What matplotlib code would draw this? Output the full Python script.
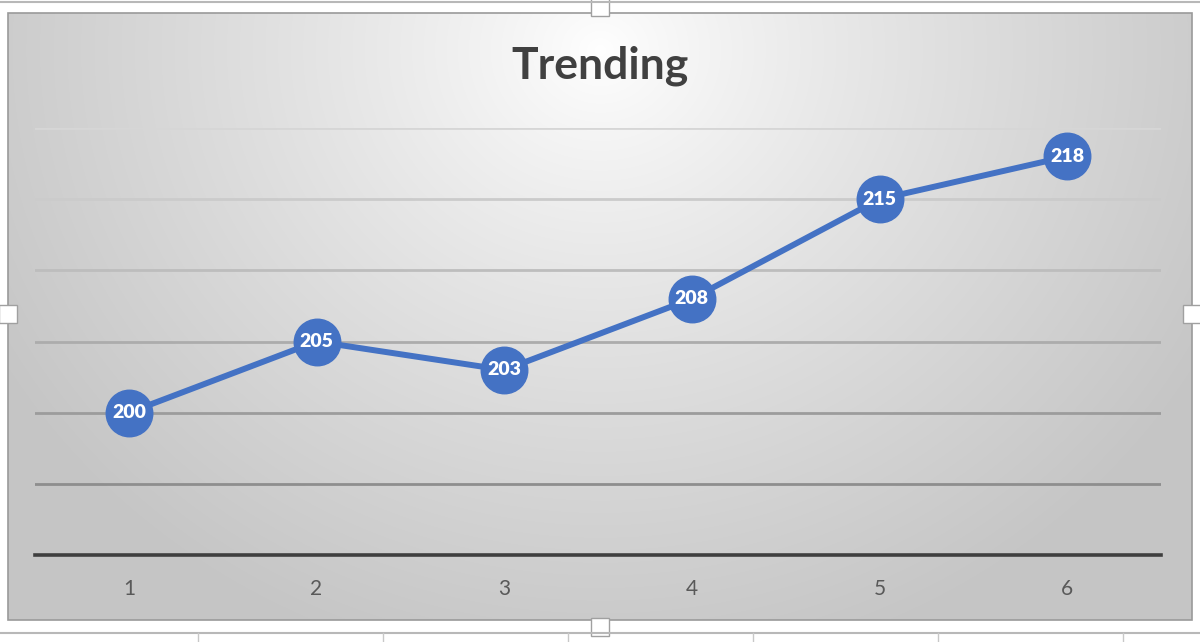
import numpy as np
import matplotlib
matplotlib.use("Agg")
import matplotlib.pyplot as plt
from matplotlib.patches import Rectangle

# chart data
categories = ["1", "2", "3", "4", "5", "6"]
values = [200, 205, 203, 208, 215, 218]
title = "Trending"

W, H = 1200, 642
BLUE = "#4472C4"

plt.rcParams["font.family"] = ["Lato", "DejaVu Sans"]

fig = plt.figure(figsize=(W / 100, H / 100), dpi=100)
fig.patch.set_facecolor("white")


def fx(px):
    return px / W


def fy(py):
    return 1 - py / H


# spreadsheet lines around the chart object
fig.add_artist(plt.Line2D([0, 1], [fy(2), fy(2)], color="#b8b8b8", lw=1.5))
fig.add_artist(plt.Line2D([0, 1], [fy(633), fy(633)], color="#b8b8b8", lw=1.5))
for cx in [198, 383, 568, 753, 938, 1123]:
    fig.add_artist(plt.Line2D([fx(cx), fx(cx)], [fy(633), 0], color="#c8c8c8", lw=1))

# chart area with radial gradient
left, top, right, bottom = 8, 13, 1192, 620
bg = fig.add_axes([fx(left), fy(bottom), fx(right - left), (bottom - top) / H])
yy, xx = np.mgrid[top:bottom, left:right]
d = np.sqrt(((xx - 600) / 700.0) ** 2 + ((yy - 50) / 640.0) ** 2)
shade = 255 - 58 * np.clip(d, 0, 1.0) ** 0.85
img = np.dstack([shade, shade, shade]) / 255.0
bg.imshow(np.clip(img, 0, 1), aspect="auto", interpolation="bilinear")
bg.set_axis_off()
fig.add_artist(Rectangle((fx(left), fy(bottom)), fx(right - left), (bottom - top) / H,
                         fill=False, edgecolor="#9a9a9a", lw=1.2))

# plot area
ax = fig.add_axes([fx(35), fy(555), fx(1161 - 35), (555 - 128) / H])
ax.set_facecolor("none")
x = np.arange(len(values))
ax.set_xlim(-0.5, len(values) - 0.5)
ax.set_ylim(190, 220)

grid_cols = {195: "#8e8e8e", 200: "#9c9c9c", 205: "#acacac", 210: "#bdbdbd",
             215: "#cbcbcb", 220: "#d6d6d6"}
for yv, c in grid_cols.items():
    ax.axhline(yv, color=c, lw=2, zorder=1)
ax.axhline(190, color="#3f3f3f", lw=2.6, zorder=2, clip_on=False)

ax.plot(x, values, color=BLUE, lw=4.3, marker="o", ms=33.5,
        markerfacecolor=BLUE, markeredgecolor=BLUE, zorder=3, clip_on=False)
for xi, v in zip(x, values):
    ax.text(xi, v, str(v), color="white", fontsize=14, fontweight="heavy",
            ha="center", va="center", zorder=4)

for s in ax.spines.values():
    s.set_visible(False)
ax.set_yticks([])
ax.set_xticks(x)
ax.set_xticklabels(categories, fontsize=15, color="#595959")
ax.tick_params(axis="x", length=0, pad=17)

fig.text(0.5, fy(78), title, ha="center", va="baseline", fontsize=32,
         fontweight="bold", color="#404040")

# selection handles
for hx, hy in [(600, 7), (8, 314), (1192, 314), (600, 627)]:
    fig.add_artist(Rectangle((fx(hx - 9), fy(hy + 9)), fx(18), 18 / H,
                             facecolor="white", edgecolor="#a0a0a0", lw=1))

fig.savefig("out.png", dpi=100)
